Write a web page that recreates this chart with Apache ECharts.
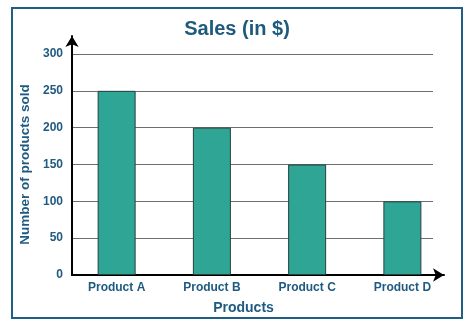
<!DOCTYPE html>
<html>
<head>
<meta charset="utf-8">
<script src="https://cdn.jsdelivr.net/npm/echarts@6/dist/echarts.min.js"></script>
<style>
  html, body { margin: 0; padding: 0; background: #fff; }
  #chart { width: 474px; height: 326px; }
</style>
</head>
<body>
<div id="chart"></div>
<script>
// Chart data
const categories = ['Product A', 'Product B', 'Product C', 'Product D'];
const unitsSold = [250, 200, 150, 100];
const yTicks = [0, 50, 100, 150, 200, 250, 300];

const titleColor = '#1e5a7e';
const labelColor = '#1f5a80';
const barColor = '#2fa595';
const font = '"Liberation Sans", Arial, sans-serif';

const chart = echarts.init(document.getElementById('chart'));

const plotTop = 54, plotBottom = 275;
const plotHeight = plotBottom - plotTop;

chart.setOption({
  backgroundColor: '#ffffff',
  animation: false,
  title: {
    text: 'Sales (in $)',
    left: 'center',
    top: 14,
    textStyle: { color: titleColor, fontFamily: font, fontWeight: 'bold', fontSize: 20 }
  },
  graphic: [{
    type: 'rect',
    shape: { x: 12, y: 8, width: 450, height: 310 },
    style: { fill: 'none', stroke: '#1f5f86', lineWidth: 2 },
    z: 0
  }],
  grid: [
    // gridlines and value labels
    { left: 72, top: plotTop, width: 361, height: plotHeight },
    // bars and category labels
    { left: 69, top: plotTop, width: 381, height: plotHeight },
    // axis lines with arrow heads
    { left: 72, top: 36, width: 372, height: plotBottom - 36 }
  ],
  xAxis: [
    { gridIndex: 0, type: 'category', data: categories, show: false },
    {
      gridIndex: 1, type: 'category', data: categories,
      axisLine: { show: false }, axisTick: { show: false },
      axisLabel: { color: labelColor, fontFamily: font, fontWeight: 'bold', fontSize: 12, margin: 7 },
      name: 'Products', nameLocation: 'middle', nameGap: 26,
      nameTextStyle: { color: labelColor, fontFamily: font, fontWeight: 'bold', fontSize: 14, padding: [0, 32, 0, 0] }
    },
    {
      gridIndex: 2, type: 'value', min: 0, max: 1,
      axisLine: { show: true, onZero: false, lineStyle: { color: '#000', width: 2 }, symbol: ['none', 'arrow'], symbolSize: [10, 11] },
      axisTick: { show: false }, axisLabel: { show: false }, splitLine: { show: false }
    }
  ],
  yAxis: [
    {
      gridIndex: 0, type: 'value', min: 0, max: 300, interval: 50,
      axisLine: { show: false }, axisTick: { show: false },
      axisLabel: {
        color: labelColor, fontFamily: font, fontWeight: 'bold', fontSize: 12, margin: 9,
        formatter: v => (yTicks.includes(v) ? String(v) : '')
      },
      splitLine: { show: true, lineStyle: { color: '#6f6f6f', width: 1 } },
      name: 'Number of products sold', nameLocation: 'middle', nameGap: 33, nameRotate: 90,
      nameTextStyle: { color: labelColor, fontFamily: font, fontWeight: 'bold', fontSize: 13.5 }
    },
    { gridIndex: 1, type: 'value', min: 0, max: 300, show: false },
    {
      gridIndex: 2, type: 'value', min: 0, max: 1,
      axisLine: { show: true, onZero: false, lineStyle: { color: '#000', width: 2 }, symbol: ['none', 'arrow'], symbolSize: [10, 11] },
      axisTick: { show: false }, axisLabel: { show: false }, splitLine: { show: false }
    }
  ],
  series: [{
    type: 'bar',
    xAxisIndex: 1,
    yAxisIndex: 1,
    data: unitsSold,
    barWidth: 38,
    itemStyle: { color: barColor, borderColor: '#25403d', borderWidth: 1 },
    z: 3
  }]
});
</script>
</body>
</html>
